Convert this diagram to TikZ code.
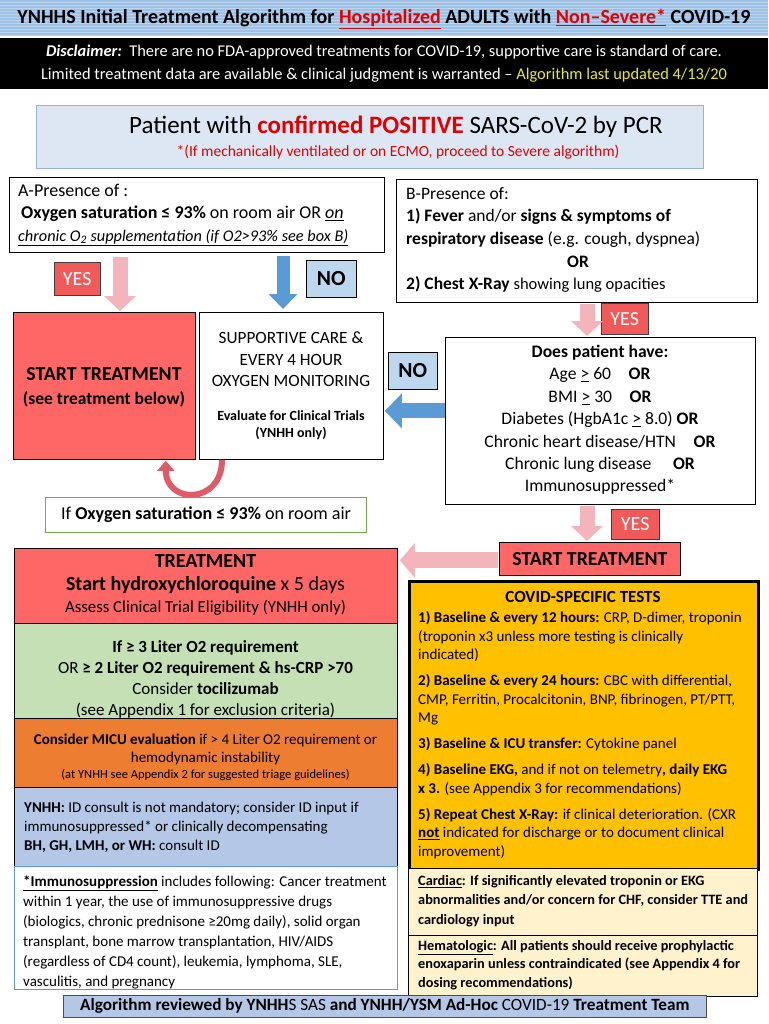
\documentclass[tikz,border=0pt]{standalone}
\usepackage{fontspec}
\setmainfont{Carlito}
\usetikzlibrary{arrows.meta,calc}
\definecolor{boxred}{RGB}{255,102,102}
\definecolor{labred}{RGB}{240,90,90}
\definecolor{pinkarr}{RGB}{244,180,188}
\definecolor{redarr}{RGB}{222,92,104}
\definecolor{bluearr}{RGB}{91,155,213}
\definecolor{nofill}{RGB}{189,215,238}
\definecolor{titleblue}{RGB}{158,193,230}
\definecolor{titlered}{RGB}{225,0,0}
\definecolor{patfill}{RGB}{221,231,243}
\definecolor{patline}{RGB}{150,180,215}
\definecolor{greenfill}{RGB}{197,224,180}
\definecolor{greenline}{RGB}{112,173,71}
\definecolor{orangefill}{RGB}{237,125,49}
\definecolor{bluefill}{RGB}{180,199,231}
\definecolor{immline}{RGB}{91,155,213}
\definecolor{testfill}{RGB}{255,192,0}
\definecolor{notefill}{RGB}{255,242,204}
\definecolor{updyellow}{RGB}{235,235,30}
\newcommand{\fs}[2]{\fontsize{#1}{#2}\selectfont}
\tikzset{
  box/.style={draw=black, line width=0.8pt, anchor=north west, inner sep=0pt},
  yeslab/.style={draw=black!75, fill=labred, text=white, anchor=north west, inner sep=0pt, font=\fs{20}{22}},
  nolab/.style={draw=black, fill=nofill, anchor=north west, inner sep=0pt, font=\bfseries\fs{21.5}{24}},
  pinkarrow/.style={draw=pinkarr, line width=15pt, -{Triangle[length=15pt,width=31pt]}},
  bluearrow/.style={draw=bluearr, line width=13pt, -{Triangle[length=15pt,width=28pt]}},
  leftlines/.style={anchor=west, align=left, inner sep=0pt},
  midlines/.style={align=center, inner sep=0pt}
}
\begin{document}
\begin{tikzpicture}[x=1pt,y=-1pt]
\useasboundingbox (0,0) rectangle (768,1024);
\fill[white] (0,0) rectangle (768,1024);
% title band
\fill[titleblue] (0,0) rectangle (768,37);
\foreach \s in {2,5,...,35}
  \draw[white, opacity=0.3, line width=0.7pt] (0,\s) -- (768,\s);
\draw[white, line width=1.2pt] (0,37) -- (768,37);
\node[font=\bfseries\fs{20}{24}] (title) at (384,19) {YNHHS Initial Treatment Algorithm for \textcolor{titlered}{\underline{Hospitalized}} ADULTS with \textcolor{titlered}{\underline{Non--Severe*}} COVID-19};
\fill[black] (0,38) rectangle (768,89);
\node[text=white, midlines, font=\fs{16.4}{23}] (disclaimer) at (384,63.5) {\textbf{\textit{Disclaimer:}}\ \ There are no FDA-approved treatments for COVID-19, supportive care is standard of care.\\ Limited treatment data are available \& clinical judgment is warranted -- \textcolor{updyellow}{Algorithm last updated 4/13/20}};

% patient box
\node[box, draw=patline, fill=patfill, line width=1pt, minimum width=667, minimum height=63] (patient) at (36,105) {};
\node[font=\fs{25}{28}] (pattext) at (396,127) {Patient with \textcolor{titlered}{\textbf{confirmed POSITIVE}} SARS-CoV-2 by PCR};
\node[text=titlered, font=\fs{15.5}{18}] (patnote) at (398,152) {*(If mechanically ventilated or on ECMO, proceed to Severe algorithm)};

% box A
\node[box, minimum width=375, minimum height=75] (presA) at (9,177) {};
\node[leftlines, font=\fs{18}{22.5}] (presAtext) at (18,215) {A-Presence of :\\ \,\textbf{Oxygen saturation ≤ 93\%} on room air OR \underline{\textit{on}}\\ {\fs{16.3}{22.5}\underline{\textit{chronic O\textsubscript{2} supplementation (if O2>93\% see box B)}}}};
\node[yeslab, minimum width=46, minimum height=33] (yesA) at (54,262) {YES};
\node[nolab, minimum width=50, minimum height=37] (noA) at (306,260) {NO};

% start and supportive care
\node[box, fill=boxred, minimum width=182, minimum height=147] (start) at (13,312) {};
\node[midlines, font=\bfseries\fs{19.8}{24}] (starttext) at (104,374) {START TREATMENT};
\node[midlines, font=\bfseries\fs{17.5}{20}] (startnote) at (104,399) {(see treatment below)};
\node[box, minimum width=184, minimum height=147] (supp) at (199,312) {};
\node[midlines, font=\fs{17.2}{21.5}] (supptext) at (291,359.5) {SUPPORTIVE CARE \&\\ EVERY 4 HOUR\\ OXYGEN MONITORING};
\node[midlines, font=\bfseries\fs{14}{17}] (trial) at (291,425) {Evaluate for Clinical Trials\\ (YNHH only)};
\node[box, draw=greenline, line width=1.1pt, minimum width=321, minimum height=35, font=\fs{18.1}{20}] (ifsat) at (45,497) {If \textbf{Oxygen saturation ≤ 93\%} on room air};

% box B and risk factors
\node[box, minimum width=361, minimum height=123] (presB) at (396,179) {};
\node[leftlines, font=\fs{17.5}{22.7}] (presBtext) at (406,240) {B-Presence of:\\ \textbf{1) Fever} and/or \textbf{signs \& symptoms of}\\ \textbf{respiratory disease} (e.g. cough, dyspnea)\\ \hspace*{161pt}\textbf{OR}\\ \textbf{2) Chest X-Ray} {\fs{16.5}{22.7}showing lung opacities}};
\node[yeslab, minimum width=47, minimum height=31] (yesB) at (601,303) {YES};
\node[box, minimum width=310, minimum height=167] (risk) at (445,337) {};
\node[midlines, font=\fs{17.6}{22.4}] (risktext) at (600,420) {\textbf{Does patient have:}\\ Age \underline{>} 60\quad\textbf{OR}\\ BMI \underline{>} 30\quad\textbf{OR}\\ Diabetes (HgbA1c \underline{>} 8.0) \textbf{OR}\\ Chronic heart disease/HTN\quad\textbf{OR}\\ Chronic lung disease\quad\ \textbf{OR}\\ Immunosuppressed*};
\node[nolab, minimum width=49, minimum height=37] (noB) at (388,352) {NO};
\node[yeslab, minimum width=48, minimum height=30] (yesC) at (611,509) {YES};
\node[box, fill=boxred, minimum width=181, minimum height=33, font=\bfseries\fs{19.8}{22}] (start2) at (499,542) {START TREATMENT};

% treatment column
\node[box, fill=boxred, minimum width=383, minimum height=75] (treat) at (14,548) {};
\node[midlines, font=\fs{20}{22.5}] (treattext) at (205.5,574) {\textbf{TREATMENT}\\ \textbf{Start hydroxychloroquine} x 5 days};
\node[midlines, font=\fs{16.8}{18}] (trialtext) at (205.5,608) {Assess Clinical Trial Eligibility (YNHH only)};
\node[box, fill=greenfill, minimum width=383, minimum height=95] (toci) at (14,623) {};
\node[midlines, font=\fs{17}{21}] (tocitext) at (205.5,679) {\textbf{If ≥ 3 Liter O2 requirement}\\ OR \textbf{≥ 2 Liter O2 requirement \& hs-CRP >70}\\ Consider \textbf{tocilizumab}\\ (see Appendix 1 for exclusion criteria)};
\node[box, fill=orangefill, minimum width=383, minimum height=69] (micu) at (14,718) {};
\node[midlines, font=\fs{15}{18}] (micutext) at (205.5,749) {\textbf{Consider MICU evaluation} if > 4 Liter O2 requirement or\\ hemodynamic instability};
\node[midlines, font=\fs{12.5}{13}] (micunote) at (205.5,775) {(at YNHH see Appendix 2 for suggested triage guidelines)};
\node[box, fill=bluefill, minimum width=383, minimum height=79] (idcons) at (14,787) {};
\node[leftlines, font=\fs{15}{19}] (idtext) at (24,827) {\textbf{YNHH:} ID consult is not mandatory; consider ID input if\\ immunosuppressed* or clinically decompensating\\ \textbf{BH, GH, LMH, or WH:} consult ID};
\node[box, draw=immline, line width=1pt, minimum width=383, minimum height=123] (immuno) at (14,866) {};
\node[leftlines, font=\fs{15}{20}] (immunotext) at (23,932) {\underline{\textbf{*Immunosuppression}} includes following: Cancer treatment\\ within 1 year, the use of immunosuppressive drugs\\ (biologics, chronic prednisone ≥20mg daily), solid organ\\ transplant, bone marrow transplantation, HIV/AIDS\\ (regardless of CD4 count), leukemia, lymphoma, SLE,\\ vasculitis, and pregnancy};

% tests column
\node[box, fill=testfill, line width=3pt, minimum width=349, minimum height=288] (tests) at (408,580) {};
\node[font=\bfseries\fs{17}{19}] (teststitle) at (583,597) {COVID-SPECIFIC TESTS};
\node[leftlines, font=\fs{15}{18.5}] (teststext) at (418,735) {\textbf{1) Baseline \& every 12 hours:} CRP, D-dimer, troponin\\ (troponin x3 unless more testing is clinically\\ indicated)\\[7.5pt]
\textbf{2) Baseline \& every 24 hours:} CBC with differential,\\ CMP, Ferritin, Procalcitonin, BNP, fibrinogen, PT/PTT,\\ Mg\\[7.5pt]
\textbf{3) Baseline \& ICU transfer:} Cytokine panel\\[7.5pt]
\textbf{4) Baseline EKG,} and if not on telemetry\textbf{, daily EKG}\\ \textbf{x 3.} (see Appendix 3 for recommendations)\\[7.5pt]
\textbf{5) Repeat Chest X-Ray:} if clinical deterioration. (CXR\\ \underline{\textbf{not}} indicated for discharge or to document clinical\\ improvement)};
\node[box, fill=notefill, minimum width=349, minimum height=67] (cardiac) at (408,868) {};
\node[leftlines, font=\bfseries\fs{14.3}{19.5}] (cardiactext) at (418,901) {\underline{Cardiac}: If significantly elevated troponin or EKG\\ abnormalities and/or concern for CHF, consider TTE and\\ cardiology input};
\node[box, fill=notefill, minimum width=349, minimum height=61] (hemat) at (408,935) {};
\node[leftlines, font=\bfseries\fs{14.3}{18.5}] (hemattext) at (418,965) {\underline{Hematologic}: All patients should receive prophylactic\\ enoxaparin unless contraindicated (see Appendix 4 for\\ dosing recommendations)};

% footer
\node[box, draw=black!70, fill=bluefill, minimum width=643, minimum height=22, font=\fs{17.2}{18}] (footer) at (63,995) {\textbf{Algorithm reviewed by YNHH}S SAS \textbf{and YNHH/YSM Ad-Hoc} COVID-19 \textbf{Treatment Team}};

% arrows
\draw[pinkarrow] ($(presA.south west)+(111,4)$) -- ($(start.north west)+(107,-1)$);
\draw[bluearrow] ($(presA.south west)+(274,3)$) -- ($(supp.north west)+(84,-3)$);
\draw[pinkarrow] ($(presB.south west)+(191,1)$) -- ($(risk.north west)+(142,-1)$);
\draw[bluearrow, line width=15pt, -{Triangle[length=17pt,width=34pt]}] ($(risk.west)+(0,-10)$) -- ($(supp.east |- risk.west)+(1,-10)$);
\draw[pinkarrow] ($(risk.south west)+(142,1)$) -- ($(start2.north west)+(88,-1)$);
\draw[pinkarrow, line width=16pt, -{Triangle[length=15pt,width=34pt]}] ($(start2.west)+(-1,1.5)$) -- ($(treat.east |- start2.west)+(2,1.5)$);
\draw[redarr, line width=6pt, -{Triangle[length=10pt,width=17pt]}] ($(supp.south west)+(23,0)$) .. controls ($(supp.south west)+(23,45)$) and ($(start.south east)+(-30,45)$) .. ($(start.south east)+(-30,1)$);
\end{tikzpicture}
\end{document}
